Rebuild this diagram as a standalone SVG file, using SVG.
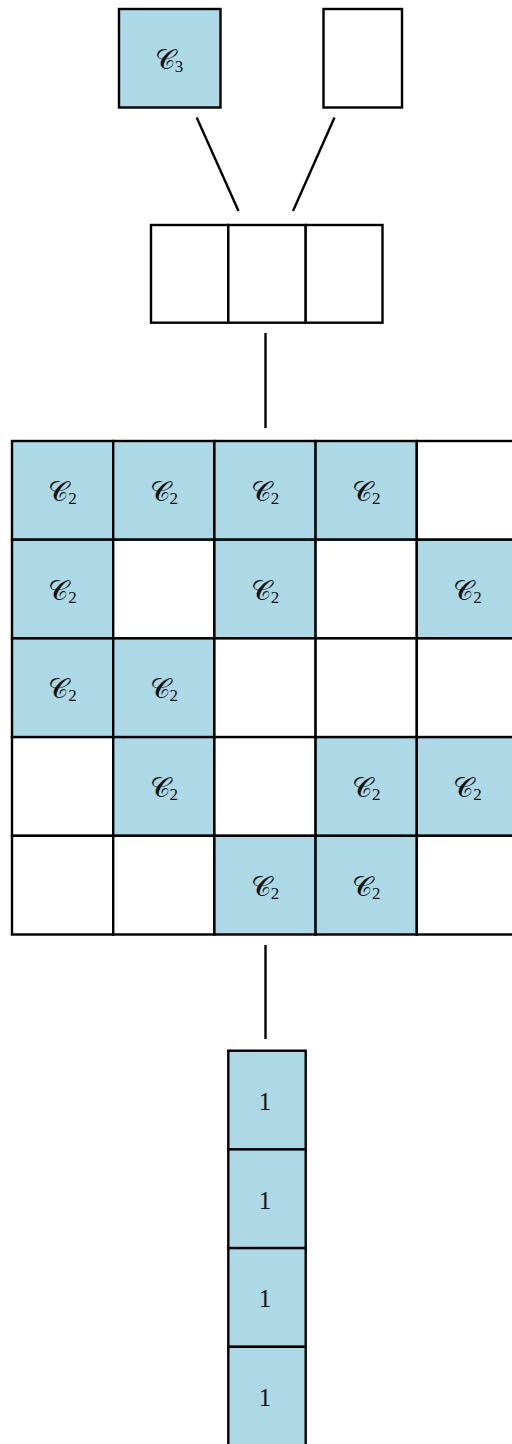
<svg xmlns="http://www.w3.org/2000/svg" width="512" height="1444" viewBox="0 0 512 1444">
<style>
.b{fill:#ADD8E6;stroke:#000;stroke-width:2.4}
.w{fill:#fff;stroke:#000;stroke-width:2.4}
.t{font-family:"Liberation Serif","DejaVu Serif",serif;font-size:28px;text-anchor:middle;fill:#111}
.n{font-family:"Liberation Serif","DejaVu Serif",serif;font-size:25px;text-anchor:middle;fill:#111}
.s{font-size:17px}
.c{stroke:#000;stroke-width:2.4;fill:none}
</style>
<rect width="512" height="1444" fill="#fff"/>
<g id="connectors">
<line class="c" x1="196.7" y1="117.5" x2="238.5" y2="211"/>
<line class="c" x1="334.5" y1="117.5" x2="293" y2="211"/>
<line class="c" x1="265.5" y1="333" x2="265.5" y2="428"/>
<line class="c" x1="265.5" y1="945" x2="265.5" y2="1039"/>
</g>
<g id="top-c3"><rect class="b" x="119" y="9" width="101.5" height="98.5"/><text class="t" x="169" y="69">𝒞<tspan class="s" dy="3">3</tspan></text></g>
<g id="top-empty"><rect class="w" x="323.5" y="9" width="78.5" height="98.5"/></g>
<g id="middle">
<rect class="w" x="151" y="225" width="77.3" height="97.7"/>
<rect class="w" x="228.3" y="225" width="77.4" height="97.7"/>
<rect class="w" x="305.7" y="225" width="76.8" height="97.7"/>
</g>
<g id="grid">
<rect class="b" x="12" y="441" width="101.2" height="98.7"/><text class="t" x="62.6" y="501">𝒞<tspan class="s" dy="3">2</tspan></text>
<rect class="b" x="113.2" y="441" width="101.2" height="98.7"/><text class="t" x="163.8" y="501">𝒞<tspan class="s" dy="3">2</tspan></text>
<rect class="b" x="214.4" y="441" width="101.2" height="98.7"/><text class="t" x="265" y="501">𝒞<tspan class="s" dy="3">2</tspan></text>
<rect class="b" x="315.6" y="441" width="101.2" height="98.7"/><text class="t" x="366.2" y="501">𝒞<tspan class="s" dy="3">2</tspan></text>
<rect class="w" x="416.8" y="441" width="101.2" height="98.7"/>

<rect class="b" x="12" y="539.7" width="101.2" height="98.7"/><text class="t" x="62.6" y="599.7">𝒞<tspan class="s" dy="3">2</tspan></text>
<rect class="w" x="113.2" y="539.7" width="101.2" height="98.7"/>
<rect class="b" x="214.4" y="539.7" width="101.2" height="98.7"/><text class="t" x="265" y="599.7">𝒞<tspan class="s" dy="3">2</tspan></text>
<rect class="w" x="315.6" y="539.7" width="101.2" height="98.7"/>
<rect class="b" x="416.8" y="539.7" width="101.2" height="98.7"/><text class="t" x="467.4" y="599.7">𝒞<tspan class="s" dy="3">2</tspan></text>

<rect class="b" x="12" y="638.4" width="101.2" height="98.7"/><text class="t" x="62.6" y="698.4">𝒞<tspan class="s" dy="3">2</tspan></text>
<rect class="b" x="113.2" y="638.4" width="101.2" height="98.7"/><text class="t" x="163.8" y="698.4">𝒞<tspan class="s" dy="3">2</tspan></text>
<rect class="w" x="214.4" y="638.4" width="101.2" height="98.7"/>
<rect class="w" x="315.6" y="638.4" width="101.2" height="98.7"/>
<rect class="w" x="416.8" y="638.4" width="101.2" height="98.7"/>

<rect class="w" x="12" y="737.1" width="101.2" height="98.7"/>
<rect class="b" x="113.2" y="737.1" width="101.2" height="98.7"/><text class="t" x="163.8" y="797.1">𝒞<tspan class="s" dy="3">2</tspan></text>
<rect class="w" x="214.4" y="737.1" width="101.2" height="98.7"/>
<rect class="b" x="315.6" y="737.1" width="101.2" height="98.7"/><text class="t" x="366.2" y="797.1">𝒞<tspan class="s" dy="3">2</tspan></text>
<rect class="b" x="416.8" y="737.1" width="101.2" height="98.7"/><text class="t" x="467.4" y="797.1">𝒞<tspan class="s" dy="3">2</tspan></text>

<rect class="w" x="12" y="835.8" width="101.2" height="98.7"/>
<rect class="w" x="113.2" y="835.8" width="101.2" height="98.7"/>
<rect class="b" x="214.4" y="835.8" width="101.2" height="98.7"/><text class="t" x="265" y="895.8">𝒞<tspan class="s" dy="3">2</tspan></text>
<rect class="b" x="315.6" y="835.8" width="101.2" height="98.7"/><text class="t" x="366.2" y="895.8">𝒞<tspan class="s" dy="3">2</tspan></text>
<rect class="w" x="416.8" y="835.8" width="101.2" height="98.7"/>
</g>
<g id="bottom">
<rect class="b" x="228.3" y="1050.7" width="77.4" height="98.7"/><text class="n" x="265" y="1110">1</text>
<rect class="b" x="228.3" y="1149.4" width="77.4" height="98.7"/><text class="n" x="265" y="1208.7">1</text>
<rect class="b" x="228.3" y="1248.1" width="77.4" height="98.7"/><text class="n" x="265" y="1307.4">1</text>
<rect class="b" x="228.3" y="1346.8" width="77.4" height="98.7"/><text class="n" x="265" y="1406.1">1</text>
</g>
</svg>
